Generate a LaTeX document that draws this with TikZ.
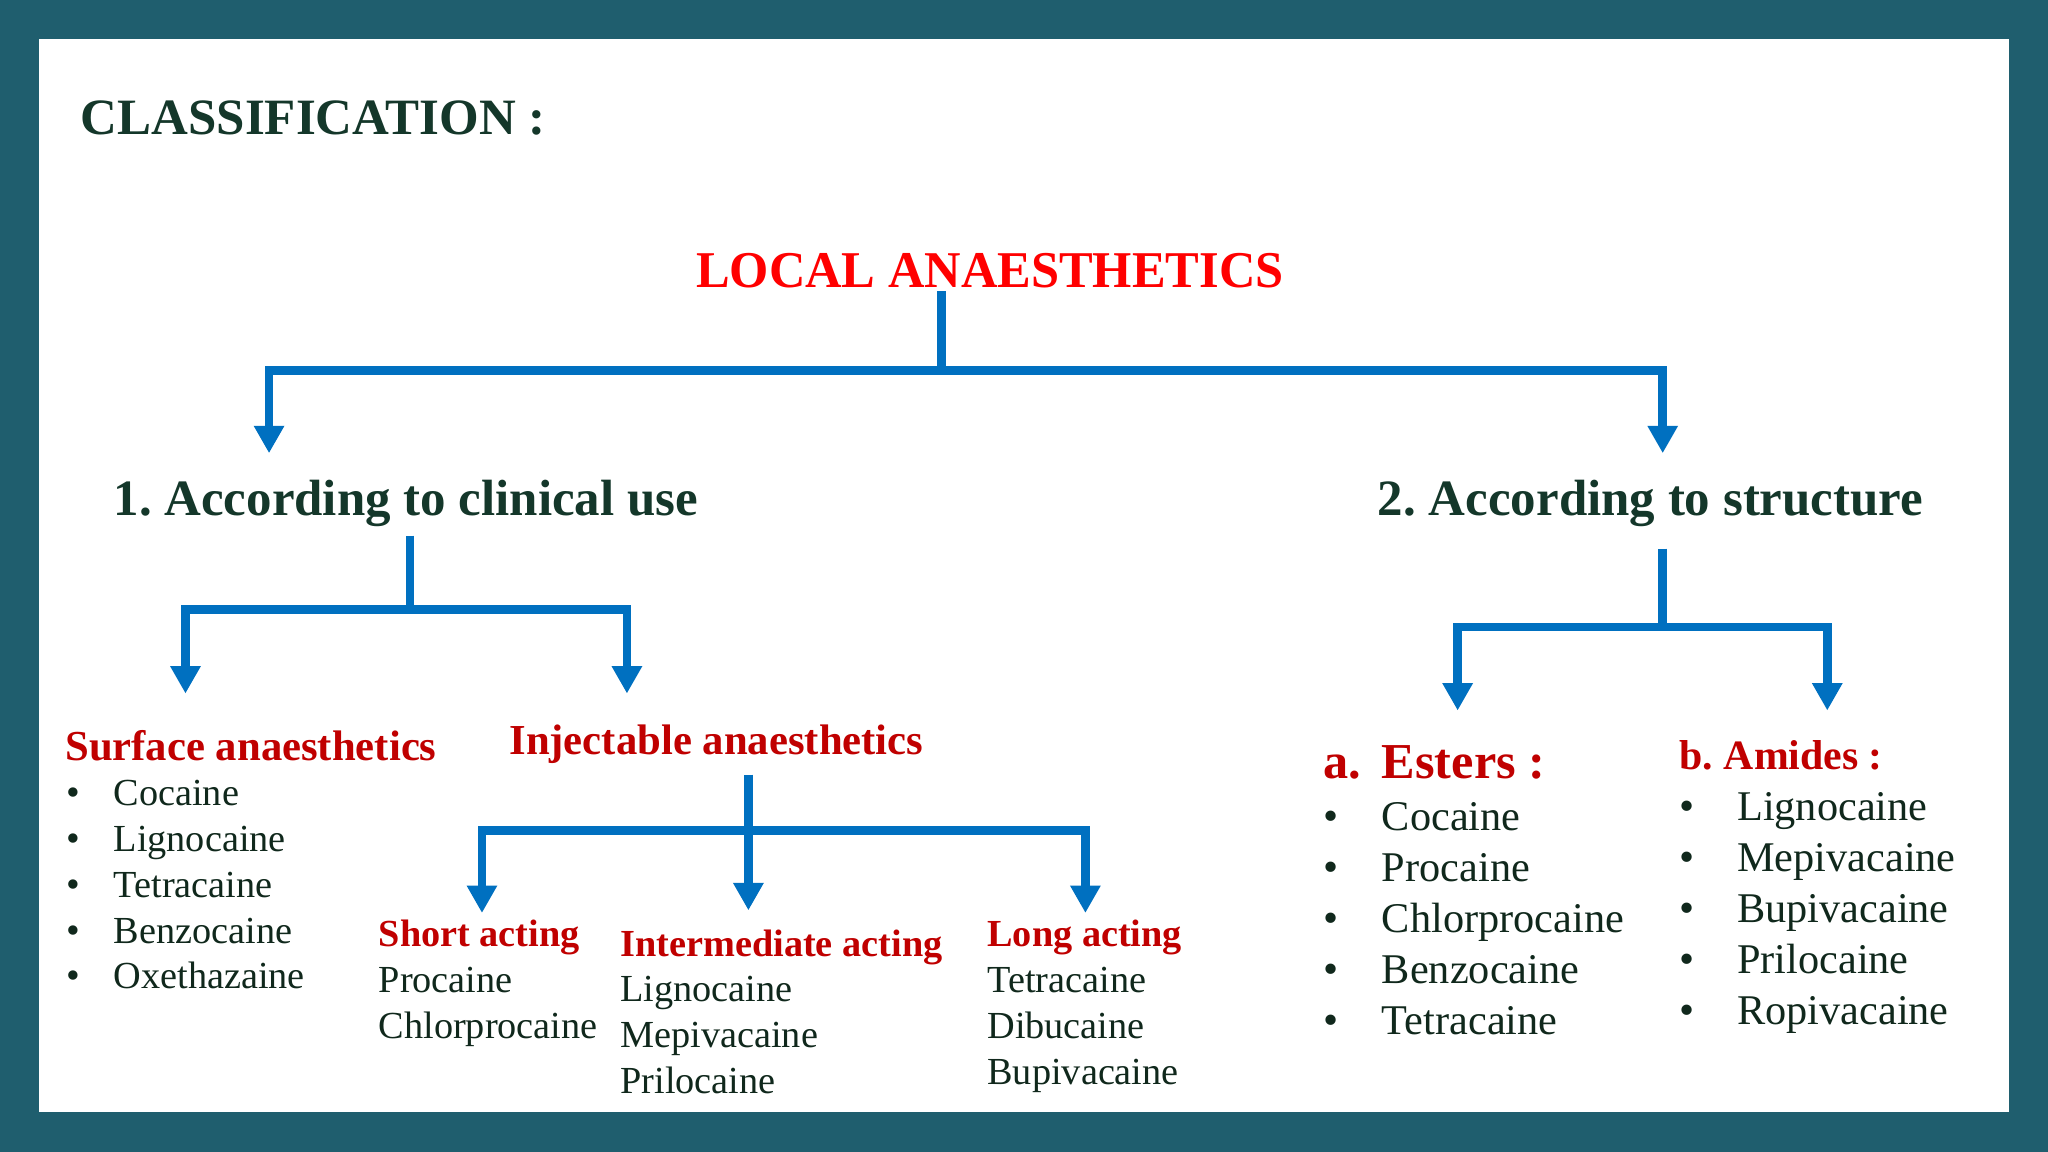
\documentclass[tikz,border=0pt]{standalone}
\usepackage{fontspec}
\setmainfont{Liberation Serif}
\usepackage{graphicx}
\usetikzlibrary{arrows.meta}
\frenchspacing
\definecolor{framecol}{HTML}{1F5E6E}
\definecolor{hdgreen}{HTML}{14372A}
\definecolor{txtcol}{HTML}{10281C}
\definecolor{brightred}{HTML}{FF0000}
\definecolor{darkred}{HTML}{C00000}
\definecolor{arrowblue}{HTML}{0070C0}
\tikzset{
  lbl/.style={anchor=base west, inner sep=0pt, outer sep=0pt},
  heading/.style={lbl, text=hdgreen, font=\bfseries\fontsize{39}{39}\selectfont},
  title/.style={lbl, text=brightred, font=\bfseries\fontsize{39.5}{40}\selectfont},
  subA/.style={lbl, text=darkred, font=\bfseries\fontsize{32.7}{33}\selectfont},
  subB/.style={lbl, text=darkred, font=\bfseries\fontsize{29.3}{30}\selectfont},
  subC/.style={lbl, text=darkred, font=\bfseries\fontsize{38.5}{39}\selectfont},
  subD/.style={lbl, text=darkred, font=\bfseries\fontsize{32}{33}\selectfont},
  drugA/.style={lbl, text=txtcol, font=\fontsize{29.3}{30}\selectfont},
  drugB/.style={lbl, text=txtcol, font=\fontsize{32.4}{33}\selectfont},
  bulA/.style={anchor=base, inner sep=0pt, text=txtcol, font=\fontsize{30}{30}\selectfont},
  bulB/.style={anchor=base, inner sep=0pt, text=txtcol, font=\fontsize{33}{33}\selectfont},
  conn/.style={draw=arrowblue, line width=6.5pt, line join=miter},
  arr/.style={conn, -{Triangle[width=22pt,length=21pt]}},
}
\begin{document}
\begin{tikzpicture}[x=1pt,y=-1pt]
\fill[framecol] (0,0) rectangle (1568,882);
\fill[white] (30,30) rectangle (1538,851);
\useasboundingbox (0,0) rectangle (1568,882);

% headings
\node[heading] (cls) at (62,103) {CLASSIFICATION :};
\node[title] (la) at (533,220) {\scalebox{0.978}[1]{LOCAL ANAESTHETICS}};
\node[heading] (clin) at (87,395) {1. According to clinical use};
\node[heading] (str) at (1055,395) {2. According to structure};

% level 1 connectors
\coordinate (laS) at (721,223);
\coordinate (j1) at (721,283.5);
\coordinate (t1L) at (206,347);
\coordinate (t1R) at (1273,347);
\draw[conn] (laS) -- (j1);
\draw[arr] (j1) -| (t1L);
\draw[arr] (j1) -| (t1R);

% clinical use branch
\coordinate (clinS) at (314,410);
\coordinate (j2) at (314,466.5);
\coordinate (t2L) at (142,531);
\coordinate (t2R) at (480,531);
\draw[conn] (clinS) -- (j2);
\draw[arr] (j2) -| (t2L);
\draw[arr] (j2) -| (t2R);

\node[subA] (surf) at (50,582) {Surface anaesthetics};
\foreach \n/\t [count=\i] in {s1/Cocaine,s2/Lignocaine,s3/Tetracaine,s4/Benzocaine,s5/Oxethazaine}{
  \node[bulA] (\n b) at (56,582+35*\i) {•};
  \node[drugA] (\n) at (87,582+35*\i) {\t};
}

\node[subA] (inj) at (390,578) {Injectable anaesthetics};
\coordinate (injS) at (573,593);
\coordinate (j3) at (573,636);
\coordinate (t3L) at (369,699);
\coordinate (t3M) at (573,697);
\coordinate (t3R) at (831,699);
\draw[conn] (injS) -- (j3);
\draw[arr] (j3) -| (t3L);
\draw[arr] (j3) -- (t3M);
\draw[arr] (j3) -| (t3R);

\node[subB] (short) at (290,725) {Short acting};
\node[drugA] (sh1) at (290,760) {Procaine};
\node[drugA] (sh2) at (290,795) {Chlorprocaine};

\node[subB] (inter) at (475,732) {Intermediate acting};
\node[drugA] (in1) at (475,767) {Lignocaine};
\node[drugA] (in2) at (475,802) {Mepivacaine};
\node[drugA] (in3) at (475,837) {Prilocaine};

\node[subB] (long) at (756,725) {Long acting};
\node[drugA] (lo1) at (756,760) {Tetracaine};
\node[drugA] (lo2) at (756,795) {Dibucaine};
\node[drugA] (lo3) at (756,830) {Bupivacaine};

% structure branch
\coordinate (strS) at (1273,420);
\coordinate (j4) at (1273,480);
\coordinate (t4L) at (1116,544);
\coordinate (t4R) at (1399,544);
\draw[conn] (strS) -- (j4);
\draw[arr] (j4) -| (t4L);
\draw[arr] (j4) -| (t4R);

\node[subC] (esta) at (1013,596) {a.};
\node[subC] (est) at (1058,596) {Esters :};
\foreach \n/\t [count=\i] in {e1/Cocaine,e2/Procaine,e3/Chlorprocaine,e4/Benzocaine,e5/Tetracaine}{
  \node[bulB] (\n b) at (1019,597+39*\i) {•};
  \node[drugB] (\n) at (1058,597+39*\i) {\t};
}

\node[subD] (ami) at (1286,589) {b. Amides :};
\foreach \n/\t [count=\i] in {a1/Lignocaine,a2/Mepivacaine,a3/Bupivacaine,a4/Prilocaine,a5/Ropivacaine}{
  \node[bulB] (\n b) at (1292,589+39*\i) {•};
  \node[drugB] (\n) at (1330,589+39*\i) {\t};
}
\end{tikzpicture}
\end{document}
